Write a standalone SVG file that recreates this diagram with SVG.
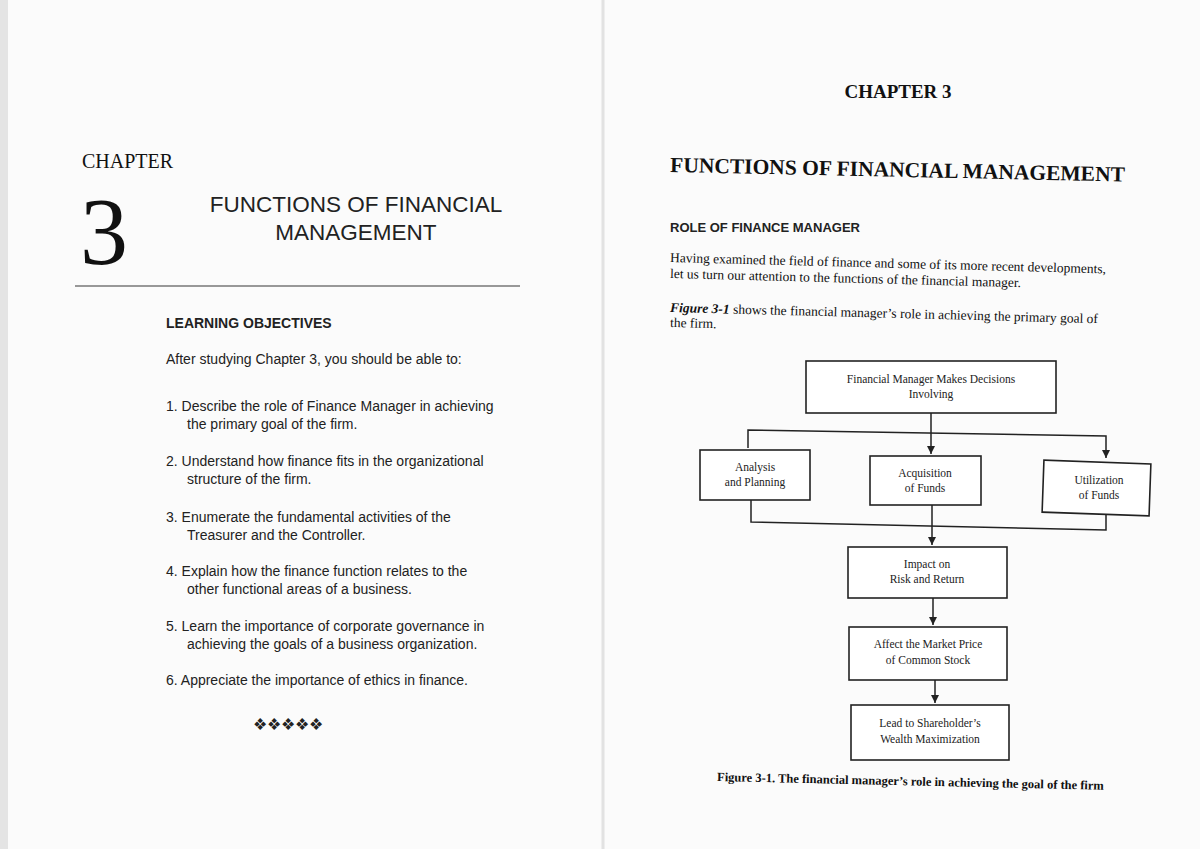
<svg xmlns="http://www.w3.org/2000/svg" width="1200" height="849" viewBox="0 0 1200 849">
<defs>
<marker id="ah" markerWidth="10" markerHeight="10" refX="8" refY="5" orient="auto" markerUnits="userSpaceOnUse"><path d="M0,1 L8,5 L0,9 Z" fill="#222"/></marker>
<style>
.box{fill:#fff;stroke:#222;stroke-width:1.6}
.bt{font-family:"Liberation Serif",serif;font-size:11.5px;fill:#222;text-anchor:middle}
.ln{stroke:#222;stroke-width:1.5;fill:none}
.sans{font-family:"Liberation Sans",Arial,sans-serif;fill:#222}
.ser{font-family:"Liberation Serif",serif;fill:#111}
</style>
</defs>
<rect width="1200" height="849" fill="#fbfbfb"/>
<rect x="0" y="0" width="8" height="849" fill="#e4e4e4"/>
<line x1="603" y1="0" x2="603" y2="849" stroke="#e2e2e2" stroke-width="3"/>
<g id="left-page">
<text x="82" y="168" class="ser" font-size="20">CHAPTER</text>
<text x="80" y="264" class="ser" font-size="96">3</text>
<text x="356" y="212" class="sans" font-size="22.5" text-anchor="middle">FUNCTIONS OF FINANCIAL</text>
<text x="356" y="240" class="sans" font-size="22.5" text-anchor="middle">MANAGEMENT</text>
<line x1="75" y1="286" x2="520" y2="286" stroke="#777" stroke-width="1.5"/>
<text x="166" y="328" class="sans" font-size="14" font-weight="bold">LEARNING OBJECTIVES</text>
<text x="166" y="364" class="sans" font-size="14">After studying Chapter 3, you should be able to:</text>
<g class="sans" font-size="14">
<text x="166" y="411">1.  Describe the role of Finance Manager in achieving</text>
<text x="187" y="429">the primary goal of the firm.</text>
<text x="166" y="466">2.  Understand how finance fits in the organizational</text>
<text x="187" y="484">structure of the firm.</text>
<text x="166" y="522">3.  Enumerate the fundamental activities of the</text>
<text x="187" y="540">Treasurer and the Controller.</text>
<text x="166" y="576">4.  Explain how the finance function relates to the</text>
<text x="187" y="594">other functional areas of a business.</text>
<text x="166" y="631">5.  Learn the importance of corporate governance in</text>
<text x="187" y="649">achieving the goals of a business organization.</text>
<text x="166" y="685">6.  Appreciate the importance of ethics in finance.</text>
</g>
<text x="288" y="730" class="sans" font-size="16" text-anchor="middle">❖❖❖❖❖</text>
</g>
<g id="right-page">
<text x="898" y="98" class="ser" font-size="19" font-weight="bold" text-anchor="middle">CHAPTER 3</text>
<text x="670" y="172" class="ser" font-size="21.5" font-weight="bold" transform="rotate(1.2 670 172)">FUNCTIONS OF FINANCIAL MANAGEMENT</text>
<text x="670" y="232" class="sans" font-size="13" font-weight="bold">ROLE OF FINANCE MANAGER</text>
<text x="670" y="262" class="ser" font-size="13.5" transform="rotate(1.5 670 262)">Having examined the field of finance and some of its more recent developments,</text>
<text x="670" y="278" class="ser" font-size="13.5" transform="rotate(1.5 670 278)">let us turn our attention to the functions of the financial manager.</text>
<text x="670" y="312" class="ser" font-size="13.5" transform="rotate(1.5 670 312)"><tspan font-style="italic" font-weight="bold">Figure 3-1</tspan> shows the financial manager’s role in achieving the primary goal of</text>
<text x="670" y="327" class="ser" font-size="13.5" transform="rotate(1.5 670 327)">the firm.</text>
</g>
<g id="connectors">
<line class="ln" x1="931" y1="413" x2="931" y2="454" marker-end="url(#ah)"/>
<polyline class="ln" points="748,448 748,430 1106,436 1106,458" marker-end="url(#ah)"/>
<polyline class="ln" points="751,500 751,522 1106,530 1106,515"/>
<line class="ln" x1="932" y1="505" x2="932" y2="545" marker-end="url(#ah)"/>
<line class="ln" x1="933" y1="598" x2="933" y2="625" marker-end="url(#ah)"/>
<line class="ln" x1="935" y1="680" x2="935" y2="703" marker-end="url(#ah)"/>
</g>
<g id="n-top"><rect class="box" x="806" y="361" width="250" height="52"/><text class="bt" x="931" y="383">Financial Manager Makes Decisions</text><text class="bt" x="931" y="398">Involving</text></g>
<g id="n-analysis"><rect class="box" x="700" y="450" width="110" height="50"/><text class="bt" x="755" y="471">Analysis</text><text class="bt" x="755" y="486">and Planning</text></g>
<g id="n-acq"><rect class="box" x="870" y="456" width="111" height="49"/><text class="bt" x="925" y="477">Acquisition</text><text class="bt" x="925" y="492">of Funds</text></g>
<g id="n-util"><rect class="box" x="1043" y="462" width="107" height="52" transform="rotate(2 1096 488)"/><text class="bt" x="1099" y="484">Utilization</text><text class="bt" x="1099" y="499">of Funds</text></g>
<g id="n-impact"><rect class="box" x="848" y="547" width="159" height="51"/><text class="bt" x="927" y="568">Impact on</text><text class="bt" x="927" y="583">Risk and Return</text></g>
<g id="n-affect"><rect class="box" x="849" y="627" width="158" height="53"/><text class="bt" x="928" y="648">Affect the Market Price</text><text class="bt" x="928" y="664">of Common Stock</text></g>
<g id="n-lead"><rect class="box" x="851" y="705" width="158" height="55"/><text class="bt" x="930" y="727">Lead to Shareholder’s</text><text class="bt" x="930" y="743">Wealth Maximization</text></g>
<text x="717" y="781" class="ser" font-size="12.5" font-weight="bold" transform="rotate(1.3 717 781)">Figure 3-1. The financial manager’s role in achieving the goal of the firm</text>
</svg>
